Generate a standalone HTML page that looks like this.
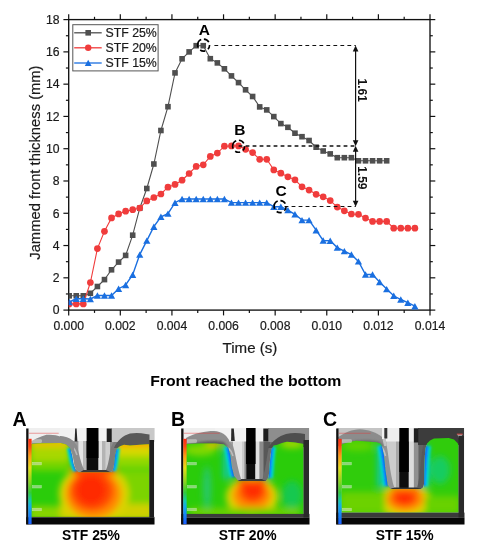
<!DOCTYPE html>
<html><head><meta charset="utf-8"><title>Jammed front thickness</title>
<style>
html,body{margin:0;padding:0;background:#fff;}
body{width:478px;height:550px;overflow:hidden;}
svg{display:block;font-family:"Liberation Sans",Arial,sans-serif;}
.tl{font-size:12.2px;fill:#1a1a1a;stroke:#1a1a1a;stroke-width:0.2px;}
.at{font-size:15.1px;fill:#1a1a1a;stroke:#1a1a1a;stroke-width:0.2px;}
.ay{font-size:14.75px;fill:#1a1a1a;stroke:#1a1a1a;stroke-width:0.2px;}
.lg{font-size:12.3px;fill:#1a1a1a;stroke:#1a1a1a;stroke-width:0.2px;}
.an{font-size:12px;font-weight:bold;fill:#111;}
.lb{font-size:15.5px;font-weight:bold;fill:#000;}
.ti{font-size:15px;font-weight:bold;fill:#000;}
.bl{font-size:19.5px;font-weight:bold;fill:#000;}
.cp{font-size:13.9px;font-weight:bold;fill:#000;}
</style></head>
<body>
<svg width="478" height="550" viewBox="0 0 478 550">
<rect width="478" height="550" fill="#fff"/>
<rect x="68.7" y="19.6" width="361.30" height="290.50" fill="none" stroke="#111" stroke-width="1.35"/>
<line x1="68.70" y1="310.1" x2="68.70" y2="315.40" stroke="#111" stroke-width="1.2"/>
<line x1="68.70" y1="19.6" x2="68.70" y2="14.30" stroke="#111" stroke-width="1.2"/>
<line x1="94.51" y1="310.1" x2="94.51" y2="312.90" stroke="#111" stroke-width="1.2"/>
<line x1="94.51" y1="19.6" x2="94.51" y2="16.80" stroke="#111" stroke-width="1.2"/>
<line x1="120.31" y1="310.1" x2="120.31" y2="315.40" stroke="#111" stroke-width="1.2"/>
<line x1="120.31" y1="19.6" x2="120.31" y2="14.30" stroke="#111" stroke-width="1.2"/>
<line x1="146.12" y1="310.1" x2="146.12" y2="312.90" stroke="#111" stroke-width="1.2"/>
<line x1="146.12" y1="19.6" x2="146.12" y2="16.80" stroke="#111" stroke-width="1.2"/>
<line x1="171.93" y1="310.1" x2="171.93" y2="315.40" stroke="#111" stroke-width="1.2"/>
<line x1="171.93" y1="19.6" x2="171.93" y2="14.30" stroke="#111" stroke-width="1.2"/>
<line x1="197.74" y1="310.1" x2="197.74" y2="312.90" stroke="#111" stroke-width="1.2"/>
<line x1="197.74" y1="19.6" x2="197.74" y2="16.80" stroke="#111" stroke-width="1.2"/>
<line x1="223.54" y1="310.1" x2="223.54" y2="315.40" stroke="#111" stroke-width="1.2"/>
<line x1="223.54" y1="19.6" x2="223.54" y2="14.30" stroke="#111" stroke-width="1.2"/>
<line x1="249.35" y1="310.1" x2="249.35" y2="312.90" stroke="#111" stroke-width="1.2"/>
<line x1="249.35" y1="19.6" x2="249.35" y2="16.80" stroke="#111" stroke-width="1.2"/>
<line x1="275.16" y1="310.1" x2="275.16" y2="315.40" stroke="#111" stroke-width="1.2"/>
<line x1="275.16" y1="19.6" x2="275.16" y2="14.30" stroke="#111" stroke-width="1.2"/>
<line x1="300.96" y1="310.1" x2="300.96" y2="312.90" stroke="#111" stroke-width="1.2"/>
<line x1="300.96" y1="19.6" x2="300.96" y2="16.80" stroke="#111" stroke-width="1.2"/>
<line x1="326.77" y1="310.1" x2="326.77" y2="315.40" stroke="#111" stroke-width="1.2"/>
<line x1="326.77" y1="19.6" x2="326.77" y2="14.30" stroke="#111" stroke-width="1.2"/>
<line x1="352.58" y1="310.1" x2="352.58" y2="312.90" stroke="#111" stroke-width="1.2"/>
<line x1="352.58" y1="19.6" x2="352.58" y2="16.80" stroke="#111" stroke-width="1.2"/>
<line x1="378.39" y1="310.1" x2="378.39" y2="315.40" stroke="#111" stroke-width="1.2"/>
<line x1="378.39" y1="19.6" x2="378.39" y2="14.30" stroke="#111" stroke-width="1.2"/>
<line x1="404.19" y1="310.1" x2="404.19" y2="312.90" stroke="#111" stroke-width="1.2"/>
<line x1="404.19" y1="19.6" x2="404.19" y2="16.80" stroke="#111" stroke-width="1.2"/>
<line x1="430.00" y1="310.1" x2="430.00" y2="315.40" stroke="#111" stroke-width="1.2"/>
<line x1="430.00" y1="19.6" x2="430.00" y2="14.30" stroke="#111" stroke-width="1.2"/>
<line x1="68.7" y1="310.10" x2="63.40" y2="310.10" stroke="#111" stroke-width="1.2"/>
<line x1="430.0" y1="310.10" x2="435.30" y2="310.10" stroke="#111" stroke-width="1.2"/>
<line x1="68.7" y1="293.96" x2="65.90" y2="293.96" stroke="#111" stroke-width="1.2"/>
<line x1="430.0" y1="293.96" x2="432.80" y2="293.96" stroke="#111" stroke-width="1.2"/>
<line x1="68.7" y1="277.82" x2="63.40" y2="277.82" stroke="#111" stroke-width="1.2"/>
<line x1="430.0" y1="277.82" x2="435.30" y2="277.82" stroke="#111" stroke-width="1.2"/>
<line x1="68.7" y1="261.68" x2="65.90" y2="261.68" stroke="#111" stroke-width="1.2"/>
<line x1="430.0" y1="261.68" x2="432.80" y2="261.68" stroke="#111" stroke-width="1.2"/>
<line x1="68.7" y1="245.54" x2="63.40" y2="245.54" stroke="#111" stroke-width="1.2"/>
<line x1="430.0" y1="245.54" x2="435.30" y2="245.54" stroke="#111" stroke-width="1.2"/>
<line x1="68.7" y1="229.41" x2="65.90" y2="229.41" stroke="#111" stroke-width="1.2"/>
<line x1="430.0" y1="229.41" x2="432.80" y2="229.41" stroke="#111" stroke-width="1.2"/>
<line x1="68.7" y1="213.27" x2="63.40" y2="213.27" stroke="#111" stroke-width="1.2"/>
<line x1="430.0" y1="213.27" x2="435.30" y2="213.27" stroke="#111" stroke-width="1.2"/>
<line x1="68.7" y1="197.13" x2="65.90" y2="197.13" stroke="#111" stroke-width="1.2"/>
<line x1="430.0" y1="197.13" x2="432.80" y2="197.13" stroke="#111" stroke-width="1.2"/>
<line x1="68.7" y1="180.99" x2="63.40" y2="180.99" stroke="#111" stroke-width="1.2"/>
<line x1="430.0" y1="180.99" x2="435.30" y2="180.99" stroke="#111" stroke-width="1.2"/>
<line x1="68.7" y1="164.85" x2="65.90" y2="164.85" stroke="#111" stroke-width="1.2"/>
<line x1="430.0" y1="164.85" x2="432.80" y2="164.85" stroke="#111" stroke-width="1.2"/>
<line x1="68.7" y1="148.71" x2="63.40" y2="148.71" stroke="#111" stroke-width="1.2"/>
<line x1="430.0" y1="148.71" x2="435.30" y2="148.71" stroke="#111" stroke-width="1.2"/>
<line x1="68.7" y1="132.57" x2="65.90" y2="132.57" stroke="#111" stroke-width="1.2"/>
<line x1="430.0" y1="132.57" x2="432.80" y2="132.57" stroke="#111" stroke-width="1.2"/>
<line x1="68.7" y1="116.43" x2="63.40" y2="116.43" stroke="#111" stroke-width="1.2"/>
<line x1="430.0" y1="116.43" x2="435.30" y2="116.43" stroke="#111" stroke-width="1.2"/>
<line x1="68.7" y1="100.29" x2="65.90" y2="100.29" stroke="#111" stroke-width="1.2"/>
<line x1="430.0" y1="100.29" x2="432.80" y2="100.29" stroke="#111" stroke-width="1.2"/>
<line x1="68.7" y1="84.16" x2="63.40" y2="84.16" stroke="#111" stroke-width="1.2"/>
<line x1="430.0" y1="84.16" x2="435.30" y2="84.16" stroke="#111" stroke-width="1.2"/>
<line x1="68.7" y1="68.02" x2="65.90" y2="68.02" stroke="#111" stroke-width="1.2"/>
<line x1="430.0" y1="68.02" x2="432.80" y2="68.02" stroke="#111" stroke-width="1.2"/>
<line x1="68.7" y1="51.88" x2="63.40" y2="51.88" stroke="#111" stroke-width="1.2"/>
<line x1="430.0" y1="51.88" x2="435.30" y2="51.88" stroke="#111" stroke-width="1.2"/>
<line x1="68.7" y1="35.74" x2="65.90" y2="35.74" stroke="#111" stroke-width="1.2"/>
<line x1="430.0" y1="35.74" x2="432.80" y2="35.74" stroke="#111" stroke-width="1.2"/>
<line x1="68.7" y1="19.60" x2="63.40" y2="19.60" stroke="#111" stroke-width="1.2"/>
<line x1="430.0" y1="19.60" x2="435.30" y2="19.60" stroke="#111" stroke-width="1.2"/>
<text x="59.6" y="314.40" text-anchor="end" class="tl">0</text>
<text x="59.6" y="282.12" text-anchor="end" class="tl">2</text>
<text x="59.6" y="249.84" text-anchor="end" class="tl">4</text>
<text x="59.6" y="217.57" text-anchor="end" class="tl">6</text>
<text x="59.6" y="185.29" text-anchor="end" class="tl">8</text>
<text x="59.6" y="153.01" text-anchor="end" class="tl">10</text>
<text x="59.6" y="120.73" text-anchor="end" class="tl">12</text>
<text x="59.6" y="88.46" text-anchor="end" class="tl">14</text>
<text x="59.6" y="56.18" text-anchor="end" class="tl">16</text>
<text x="59.6" y="23.90" text-anchor="end" class="tl">18</text>
<text x="68.70" y="329.9" text-anchor="middle" class="tl">0.000</text>
<text x="120.31" y="329.9" text-anchor="middle" class="tl">0.002</text>
<text x="171.93" y="329.9" text-anchor="middle" class="tl">0.004</text>
<text x="223.54" y="329.9" text-anchor="middle" class="tl">0.006</text>
<text x="275.16" y="329.9" text-anchor="middle" class="tl">0.008</text>
<text x="326.77" y="329.9" text-anchor="middle" class="tl">0.010</text>
<text x="378.39" y="329.9" text-anchor="middle" class="tl">0.012</text>
<text x="430.00" y="329.9" text-anchor="middle" class="tl">0.014</text>
<text x="250" y="352.6" text-anchor="middle" class="at">Time (s)</text>
<text transform="translate(39.8,162.6) rotate(-90)" text-anchor="middle" class="ay">Jammed front thickness (mm)</text>
<clipPath id="plotclip"><rect x="68.7" y="19.6" width="361.3" height="290.5"/></clipPath><g clip-path="url(#plotclip)">
<polyline points="69.20,295.80 76.25,295.80 83.31,295.80 90.37,293.30 97.42,286.50 104.47,279.60 111.53,269.80 118.59,262.10 125.64,255.40 132.69,235.20 139.75,208.20 146.81,188.50 153.86,164.00 160.92,130.50 167.97,106.70 175.02,72.90 182.08,58.80 189.13,51.90 196.19,45.70 203.25,45.70 210.30,58.70 217.36,62.90 224.41,68.80 231.46,75.90 238.52,82.60 245.57,89.80 252.63,96.50 259.69,106.90 266.74,109.90 273.80,116.60 280.85,123.60 287.90,127.30 294.96,133.20 302.01,136.70 309.07,140.50 316.12,147.20 323.18,151.00 330.23,153.90 337.29,157.70 344.34,157.70 351.40,157.70 358.45,160.80 365.51,160.80 372.56,160.80 379.62,160.80 386.67,160.80" fill="none" stroke="#4f4f4f" stroke-width="1.1"/>
<rect x="66.40" y="293.00" width="5.6" height="5.6" fill="#4f4f4f"/>
<rect x="73.45" y="293.00" width="5.6" height="5.6" fill="#4f4f4f"/>
<rect x="80.51" y="293.00" width="5.6" height="5.6" fill="#4f4f4f"/>
<rect x="87.57" y="290.50" width="5.6" height="5.6" fill="#4f4f4f"/>
<rect x="94.62" y="283.70" width="5.6" height="5.6" fill="#4f4f4f"/>
<rect x="101.67" y="276.80" width="5.6" height="5.6" fill="#4f4f4f"/>
<rect x="108.73" y="267.00" width="5.6" height="5.6" fill="#4f4f4f"/>
<rect x="115.79" y="259.30" width="5.6" height="5.6" fill="#4f4f4f"/>
<rect x="122.84" y="252.60" width="5.6" height="5.6" fill="#4f4f4f"/>
<rect x="129.89" y="232.40" width="5.6" height="5.6" fill="#4f4f4f"/>
<rect x="136.95" y="205.40" width="5.6" height="5.6" fill="#4f4f4f"/>
<rect x="144.00" y="185.70" width="5.6" height="5.6" fill="#4f4f4f"/>
<rect x="151.06" y="161.20" width="5.6" height="5.6" fill="#4f4f4f"/>
<rect x="158.12" y="127.70" width="5.6" height="5.6" fill="#4f4f4f"/>
<rect x="165.17" y="103.90" width="5.6" height="5.6" fill="#4f4f4f"/>
<rect x="172.22" y="70.10" width="5.6" height="5.6" fill="#4f4f4f"/>
<rect x="179.28" y="56.00" width="5.6" height="5.6" fill="#4f4f4f"/>
<rect x="186.33" y="49.10" width="5.6" height="5.6" fill="#4f4f4f"/>
<rect x="193.39" y="42.90" width="5.6" height="5.6" fill="#4f4f4f"/>
<rect x="200.44" y="42.90" width="5.6" height="5.6" fill="#4f4f4f"/>
<rect x="207.50" y="55.90" width="5.6" height="5.6" fill="#4f4f4f"/>
<rect x="214.56" y="60.10" width="5.6" height="5.6" fill="#4f4f4f"/>
<rect x="221.61" y="66.00" width="5.6" height="5.6" fill="#4f4f4f"/>
<rect x="228.66" y="73.10" width="5.6" height="5.6" fill="#4f4f4f"/>
<rect x="235.72" y="79.80" width="5.6" height="5.6" fill="#4f4f4f"/>
<rect x="242.77" y="87.00" width="5.6" height="5.6" fill="#4f4f4f"/>
<rect x="249.83" y="93.70" width="5.6" height="5.6" fill="#4f4f4f"/>
<rect x="256.88" y="104.10" width="5.6" height="5.6" fill="#4f4f4f"/>
<rect x="263.94" y="107.10" width="5.6" height="5.6" fill="#4f4f4f"/>
<rect x="271.00" y="113.80" width="5.6" height="5.6" fill="#4f4f4f"/>
<rect x="278.05" y="120.80" width="5.6" height="5.6" fill="#4f4f4f"/>
<rect x="285.10" y="124.50" width="5.6" height="5.6" fill="#4f4f4f"/>
<rect x="292.16" y="130.40" width="5.6" height="5.6" fill="#4f4f4f"/>
<rect x="299.21" y="133.90" width="5.6" height="5.6" fill="#4f4f4f"/>
<rect x="306.27" y="137.70" width="5.6" height="5.6" fill="#4f4f4f"/>
<rect x="313.32" y="144.40" width="5.6" height="5.6" fill="#4f4f4f"/>
<rect x="320.38" y="148.20" width="5.6" height="5.6" fill="#4f4f4f"/>
<rect x="327.43" y="151.10" width="5.6" height="5.6" fill="#4f4f4f"/>
<rect x="334.49" y="154.90" width="5.6" height="5.6" fill="#4f4f4f"/>
<rect x="341.54" y="154.90" width="5.6" height="5.6" fill="#4f4f4f"/>
<rect x="348.60" y="154.90" width="5.6" height="5.6" fill="#4f4f4f"/>
<rect x="355.65" y="158.00" width="5.6" height="5.6" fill="#4f4f4f"/>
<rect x="362.71" y="158.00" width="5.6" height="5.6" fill="#4f4f4f"/>
<rect x="369.76" y="158.00" width="5.6" height="5.6" fill="#4f4f4f"/>
<rect x="376.82" y="158.00" width="5.6" height="5.6" fill="#4f4f4f"/>
<rect x="383.87" y="158.00" width="5.6" height="5.6" fill="#4f4f4f"/>
<polyline points="69.20,303.90 76.25,303.90 83.31,303.90 90.37,282.50 97.42,248.60 104.47,231.30 111.53,217.90 118.59,213.90 125.64,211.20 132.69,209.70 139.75,208.00 146.81,200.90 153.86,197.50 160.92,194.00 167.97,187.20 175.02,184.40 182.08,180.20 189.13,173.50 196.19,166.40 203.25,164.80 210.30,156.40 217.36,153.10 224.41,146.20 231.46,145.90 238.52,145.90 245.57,149.30 252.63,152.60 259.69,159.30 266.74,159.30 273.80,169.90 280.85,173.20 287.90,176.80 294.96,179.80 302.01,186.80 309.07,190.10 316.12,194.30 323.18,196.80 330.23,200.60 337.29,207.10 344.34,210.80 351.40,214.00 358.45,214.30 365.51,218.10 372.56,221.40 379.62,221.40 386.67,221.40 393.73,228.20 400.78,228.20 407.84,228.20 414.89,228.20" fill="none" stroke="#f03c3c" stroke-width="1.1"/>
<circle cx="69.20" cy="303.90" r="3.35" fill="#f03c3c"/>
<circle cx="76.25" cy="303.90" r="3.35" fill="#f03c3c"/>
<circle cx="83.31" cy="303.90" r="3.35" fill="#f03c3c"/>
<circle cx="90.37" cy="282.50" r="3.35" fill="#f03c3c"/>
<circle cx="97.42" cy="248.60" r="3.35" fill="#f03c3c"/>
<circle cx="104.47" cy="231.30" r="3.35" fill="#f03c3c"/>
<circle cx="111.53" cy="217.90" r="3.35" fill="#f03c3c"/>
<circle cx="118.59" cy="213.90" r="3.35" fill="#f03c3c"/>
<circle cx="125.64" cy="211.20" r="3.35" fill="#f03c3c"/>
<circle cx="132.69" cy="209.70" r="3.35" fill="#f03c3c"/>
<circle cx="139.75" cy="208.00" r="3.35" fill="#f03c3c"/>
<circle cx="146.81" cy="200.90" r="3.35" fill="#f03c3c"/>
<circle cx="153.86" cy="197.50" r="3.35" fill="#f03c3c"/>
<circle cx="160.92" cy="194.00" r="3.35" fill="#f03c3c"/>
<circle cx="167.97" cy="187.20" r="3.35" fill="#f03c3c"/>
<circle cx="175.02" cy="184.40" r="3.35" fill="#f03c3c"/>
<circle cx="182.08" cy="180.20" r="3.35" fill="#f03c3c"/>
<circle cx="189.13" cy="173.50" r="3.35" fill="#f03c3c"/>
<circle cx="196.19" cy="166.40" r="3.35" fill="#f03c3c"/>
<circle cx="203.25" cy="164.80" r="3.35" fill="#f03c3c"/>
<circle cx="210.30" cy="156.40" r="3.35" fill="#f03c3c"/>
<circle cx="217.36" cy="153.10" r="3.35" fill="#f03c3c"/>
<circle cx="224.41" cy="146.20" r="3.35" fill="#f03c3c"/>
<circle cx="231.46" cy="145.90" r="3.35" fill="#f03c3c"/>
<circle cx="238.52" cy="145.90" r="3.35" fill="#f03c3c"/>
<circle cx="245.57" cy="149.30" r="3.35" fill="#f03c3c"/>
<circle cx="252.63" cy="152.60" r="3.35" fill="#f03c3c"/>
<circle cx="259.69" cy="159.30" r="3.35" fill="#f03c3c"/>
<circle cx="266.74" cy="159.30" r="3.35" fill="#f03c3c"/>
<circle cx="273.80" cy="169.90" r="3.35" fill="#f03c3c"/>
<circle cx="280.85" cy="173.20" r="3.35" fill="#f03c3c"/>
<circle cx="287.90" cy="176.80" r="3.35" fill="#f03c3c"/>
<circle cx="294.96" cy="179.80" r="3.35" fill="#f03c3c"/>
<circle cx="302.01" cy="186.80" r="3.35" fill="#f03c3c"/>
<circle cx="309.07" cy="190.10" r="3.35" fill="#f03c3c"/>
<circle cx="316.12" cy="194.30" r="3.35" fill="#f03c3c"/>
<circle cx="323.18" cy="196.80" r="3.35" fill="#f03c3c"/>
<circle cx="330.23" cy="200.60" r="3.35" fill="#f03c3c"/>
<circle cx="337.29" cy="207.10" r="3.35" fill="#f03c3c"/>
<circle cx="344.34" cy="210.80" r="3.35" fill="#f03c3c"/>
<circle cx="351.40" cy="214.00" r="3.35" fill="#f03c3c"/>
<circle cx="358.45" cy="214.30" r="3.35" fill="#f03c3c"/>
<circle cx="365.51" cy="218.10" r="3.35" fill="#f03c3c"/>
<circle cx="372.56" cy="221.40" r="3.35" fill="#f03c3c"/>
<circle cx="379.62" cy="221.40" r="3.35" fill="#f03c3c"/>
<circle cx="386.67" cy="221.40" r="3.35" fill="#f03c3c"/>
<circle cx="393.73" cy="228.20" r="3.35" fill="#f03c3c"/>
<circle cx="400.78" cy="228.20" r="3.35" fill="#f03c3c"/>
<circle cx="407.84" cy="228.20" r="3.35" fill="#f03c3c"/>
<circle cx="414.89" cy="228.20" r="3.35" fill="#f03c3c"/>
<polyline points="69.20,302.00 76.25,298.80 83.31,298.80 90.37,299.00 97.42,295.50 104.47,295.50 111.53,295.50 118.59,288.70 125.64,285.00 132.69,274.70 139.75,254.60 146.81,240.60 153.86,226.70 160.92,216.80 167.97,213.60 175.02,202.70 182.08,199.00 189.13,199.00 196.19,199.00 203.25,199.00 210.30,199.00 217.36,199.00 224.41,199.00 231.46,202.60 238.52,202.60 245.57,202.60 252.63,202.60 259.69,202.60 266.74,202.60 273.80,206.70 280.85,206.70 287.90,210.10 294.96,214.30 302.01,220.10 309.07,220.10 316.12,230.20 323.18,240.50 330.23,240.70 337.29,247.60 344.34,251.10 351.40,254.50 358.45,261.40 365.51,274.50 372.56,274.50 379.62,282.00 386.67,289.10 393.73,295.80 400.78,299.50 407.84,302.70 414.89,306.20" fill="none" stroke="#1a6fe0" stroke-width="1.4"/>
<path d="M69.20,298.80L72.80,305.20L65.60,305.20Z" fill="#1a6fe0"/>
<path d="M76.25,295.60L79.85,302.00L72.66,302.00Z" fill="#1a6fe0"/>
<path d="M83.31,295.60L86.91,302.00L79.71,302.00Z" fill="#1a6fe0"/>
<path d="M90.37,295.80L93.97,302.20L86.77,302.20Z" fill="#1a6fe0"/>
<path d="M97.42,292.30L101.02,298.70L93.82,298.70Z" fill="#1a6fe0"/>
<path d="M104.47,292.30L108.07,298.70L100.88,298.70Z" fill="#1a6fe0"/>
<path d="M111.53,292.30L115.13,298.70L107.93,298.70Z" fill="#1a6fe0"/>
<path d="M118.59,285.50L122.19,291.90L114.99,291.90Z" fill="#1a6fe0"/>
<path d="M125.64,281.80L129.24,288.20L122.04,288.20Z" fill="#1a6fe0"/>
<path d="M132.69,271.50L136.29,277.90L129.09,277.90Z" fill="#1a6fe0"/>
<path d="M139.75,251.40L143.35,257.80L136.15,257.80Z" fill="#1a6fe0"/>
<path d="M146.81,237.40L150.41,243.80L143.21,243.80Z" fill="#1a6fe0"/>
<path d="M153.86,223.50L157.46,229.90L150.26,229.90Z" fill="#1a6fe0"/>
<path d="M160.92,213.60L164.52,220.00L157.32,220.00Z" fill="#1a6fe0"/>
<path d="M167.97,210.40L171.57,216.80L164.37,216.80Z" fill="#1a6fe0"/>
<path d="M175.02,199.50L178.62,205.90L171.42,205.90Z" fill="#1a6fe0"/>
<path d="M182.08,195.80L185.68,202.20L178.48,202.20Z" fill="#1a6fe0"/>
<path d="M189.13,195.80L192.73,202.20L185.53,202.20Z" fill="#1a6fe0"/>
<path d="M196.19,195.80L199.79,202.20L192.59,202.20Z" fill="#1a6fe0"/>
<path d="M203.25,195.80L206.84,202.20L199.65,202.20Z" fill="#1a6fe0"/>
<path d="M210.30,195.80L213.90,202.20L206.70,202.20Z" fill="#1a6fe0"/>
<path d="M217.36,195.80L220.96,202.20L213.76,202.20Z" fill="#1a6fe0"/>
<path d="M224.41,195.80L228.01,202.20L220.81,202.20Z" fill="#1a6fe0"/>
<path d="M231.46,199.40L235.06,205.80L227.86,205.80Z" fill="#1a6fe0"/>
<path d="M238.52,199.40L242.12,205.80L234.92,205.80Z" fill="#1a6fe0"/>
<path d="M245.57,199.40L249.17,205.80L241.97,205.80Z" fill="#1a6fe0"/>
<path d="M252.63,199.40L256.23,205.80L249.03,205.80Z" fill="#1a6fe0"/>
<path d="M259.69,199.40L263.29,205.80L256.08,205.80Z" fill="#1a6fe0"/>
<path d="M266.74,199.40L270.34,205.80L263.14,205.80Z" fill="#1a6fe0"/>
<path d="M273.80,203.50L277.40,209.90L270.19,209.90Z" fill="#1a6fe0"/>
<path d="M280.85,203.50L284.45,209.90L277.25,209.90Z" fill="#1a6fe0"/>
<path d="M287.90,206.90L291.50,213.30L284.30,213.30Z" fill="#1a6fe0"/>
<path d="M294.96,211.10L298.56,217.50L291.36,217.50Z" fill="#1a6fe0"/>
<path d="M302.01,216.90L305.62,223.30L298.41,223.30Z" fill="#1a6fe0"/>
<path d="M309.07,216.90L312.67,223.30L305.47,223.30Z" fill="#1a6fe0"/>
<path d="M316.12,227.00L319.73,233.40L312.52,233.40Z" fill="#1a6fe0"/>
<path d="M323.18,237.30L326.78,243.70L319.58,243.70Z" fill="#1a6fe0"/>
<path d="M330.23,237.50L333.83,243.90L326.63,243.90Z" fill="#1a6fe0"/>
<path d="M337.29,244.40L340.89,250.80L333.69,250.80Z" fill="#1a6fe0"/>
<path d="M344.34,247.90L347.94,254.30L340.74,254.30Z" fill="#1a6fe0"/>
<path d="M351.40,251.30L355.00,257.70L347.80,257.70Z" fill="#1a6fe0"/>
<path d="M358.45,258.20L362.06,264.60L354.85,264.60Z" fill="#1a6fe0"/>
<path d="M365.51,271.30L369.11,277.70L361.91,277.70Z" fill="#1a6fe0"/>
<path d="M372.56,271.30L376.17,277.70L368.96,277.70Z" fill="#1a6fe0"/>
<path d="M379.62,278.80L383.22,285.20L376.02,285.20Z" fill="#1a6fe0"/>
<path d="M386.67,285.90L390.27,292.30L383.07,292.30Z" fill="#1a6fe0"/>
<path d="M393.73,292.60L397.33,299.00L390.13,299.00Z" fill="#1a6fe0"/>
<path d="M400.78,296.30L404.38,302.70L397.18,302.70Z" fill="#1a6fe0"/>
<path d="M407.84,299.50L411.44,305.90L404.24,305.90Z" fill="#1a6fe0"/>
<path d="M414.89,303.00L418.50,309.40L411.29,309.40Z" fill="#1a6fe0"/>
</g>
<rect x="72.8" y="24.7" width="85.3" height="46.2" fill="#fff" stroke="#555" stroke-width="1"/>
<line x1="74.2" y1="32.8" x2="101.7" y2="32.8" stroke="#4f4f4f" stroke-width="1.3"/>
<rect x="85.4" y="29.999999999999996" width="5.6" height="5.6" fill="#4f4f4f"/>
<text x="105.5" y="37.0" class="lg">STF 25%</text>
<line x1="74.2" y1="47.8" x2="101.7" y2="47.8" stroke="#f03c3c" stroke-width="1.3"/>
<circle cx="88.2" cy="47.8" r="3.2" fill="#f03c3c"/>
<text x="105.5" y="52.0" class="lg">STF 20%</text>
<line x1="74.2" y1="63.0" x2="101.7" y2="63.0" stroke="#1a6fe0" stroke-width="1.3"/>
<path d="M88.2,59.8L91.60000000000001,65.9L84.8,65.9Z" fill="#1a6fe0"/>
<text x="105.5" y="67.2" class="lg">STF 15%</text>
<line x1="214.4" y1="45.5" x2="355.8" y2="45.5" stroke="#111" stroke-width="1.2" stroke-dasharray="3.8,3.2"/>
<line x1="238.6" y1="146.0" x2="355.8" y2="146.0" stroke="#111" stroke-width="1.3" stroke-dasharray="3.8,3.2"/>
<line x1="284.6" y1="206.5" x2="355.8" y2="206.5" stroke="#111" stroke-width="1.2" stroke-dasharray="3.8,3.2"/>
<line x1="355.6" y1="49.4" x2="355.6" y2="142.2" stroke="#111" stroke-width="1.2"/>
<path d="M355.6,45.4L358.4,51.4L352.8,51.4Z" fill="#111"/>
<path d="M355.6,146.2L358.4,140.2L352.8,140.2Z" fill="#111"/>
<line x1="355.6" y1="149.8" x2="355.6" y2="202.8" stroke="#111" stroke-width="1.2"/>
<path d="M355.6,145.8L358.4,151.8L352.8,151.8Z" fill="#111"/>
<path d="M355.6,206.8L358.4,200.8L352.8,200.8Z" fill="#111"/>
<text transform="translate(358.3,90.2) rotate(90)" text-anchor="middle" class="an">1.61</text>
<text transform="translate(358.3,177.8) rotate(90)" text-anchor="middle" class="an">1.59</text>
<circle cx="203.6" cy="45.1" r="6.0" fill="none" stroke="#000" stroke-width="1.6" stroke-dasharray="5.45,3.04,5.24,3.25,9.01,2.83,5.76,3.14" stroke-dashoffset="0.94"/>
<circle cx="238.6" cy="146.3" r="6.0" fill="none" stroke="#000" stroke-width="1.6" stroke-dasharray="5.45,3.04,5.24,3.25,9.01,2.83,5.76,3.14" stroke-dashoffset="0.94"/>
<circle cx="280.1" cy="206.6" r="6.0" fill="none" stroke="#000" stroke-width="1.6" stroke-dasharray="5.45,3.04,5.24,3.25,9.01,2.83,5.76,3.14" stroke-dashoffset="0.94"/>
<text x="204.4" y="34.5" text-anchor="middle" class="lb">A</text>
<text x="239.8" y="135.3" text-anchor="middle" class="lb">B</text>
<text x="281.1" y="196.2" text-anchor="middle" class="lb">C</text>
<defs>
<filter id="b3" x="-30%" y="-30%" width="160%" height="160%"><feGaussianBlur stdDeviation="3"/></filter>
<filter id="b2" x="-30%" y="-30%" width="160%" height="160%"><feGaussianBlur stdDeviation="1.8"/></filter>
<filter id="b1" x="-30%" y="-30%" width="160%" height="160%"><feGaussianBlur stdDeviation="0.9"/></filter>
<filter id="b05" x="-30%" y="-30%" width="160%" height="160%"><feGaussianBlur stdDeviation="0.5"/></filter>
<linearGradient id="cbar" x1="0" y1="0" x2="0" y2="1">
<stop offset="0" stop-color="#ff2a12"/>
<stop offset="0.09" stop-color="#ff4a10"/>
<stop offset="0.2" stop-color="#ff9a12"/>
<stop offset="0.34" stop-color="#e6dc14"/>
<stop offset="0.5" stop-color="#8cd41e"/>
<stop offset="0.63" stop-color="#30cc3a"/>
<stop offset="0.73" stop-color="#12c8b4"/>
<stop offset="0.8" stop-color="#12a8f0"/>
<stop offset="1" stop-color="#1a5cff"/>
</linearGradient>
</defs>
<rect x="26.2" y="428.0" width="128.3" height="96.5" fill="#efefef"/>
<clipPath id="iA"><path d="M60,442 C69,443 72,450 73.5,460 C74.5,467 76,471 79,472.5 L111,472.5 C113,471 114,466 114.6,460 C115.5,450 118,443 126,442 L126,428 L60,428 Z"/></clipPath>
<g clip-path="url(#iA)">
<rect x="26.2" y="428.0" width="128.3" height="96.5" fill="#bcbcbc"/>
<g filter="url(#b05)">
<rect x="60" y="428.0" width="16.00" height="96.5" fill="#a4a4a4"/>
<rect x="76" y="428.0" width="2.50" height="96.5" fill="#9a9a9a"/>
<rect x="78.5" y="428.0" width="4.50" height="96.5" fill="#e4e4e4"/>
<rect x="83" y="428.0" width="3.60" height="96.5" fill="#b8b8b8"/>
<rect x="86.6" y="428.0" width="11.90" height="96.5" fill="#0a0a0a"/>
<rect x="98.5" y="428.0" width="3.50" height="96.5" fill="#e2e2e2"/>
<rect x="102" y="428.0" width="3.50" height="96.5" fill="#b4b4b4"/>
<rect x="105.5" y="428.0" width="4.50" height="96.5" fill="#cfcfcf"/>
<rect x="110" y="428.0" width="16.00" height="96.5" fill="#8c8c8c"/>
<rect x="60" y="428" width="51.5" height="13" fill="#f2f2f2"/>
<rect x="86.6" y="428" width="11.9" height="30" fill="#050505"/>
<rect x="76" y="470" width="38" height="3" fill="#3a3a3a"/>
<path d="M52,440 C63,440 70,441.5 73,448 C75,456 76.5,466 80.5,472" fill="none" stroke="#8c8c8c" stroke-width="9"/>
<path d="M136,440 C125,440 118,441.5 115.5,448 C114,456 113,466 110,472" fill="none" stroke="#7c7c7c" stroke-width="9"/>
<path d="M66,443.5 C72,445 75.5,449 77,455" fill="none" stroke="#b8b8b8" stroke-width="1.6"/>
</g></g>
<rect x="111.5" y="428" width="43" height="14" fill="#c8c8c8"/>
<path d="M31.5,444 L31.5,441 C36,438.5 40,436.9 46.4,434.8 C52,434.4 57,435 61,436.8 C66,439 70,441.5 74,444 L74,452 Z" fill="#8c8c8c"/>
<path d="M114,448 C117,441 123,435.5 130,433.6 C135,432.4 141,432.8 146,434 L149.5,434.5 L149.5,447 Z" fill="#585858"/>
<path d="M75.2,428.5 L76.6,428.5 L77.4,441.5 L74.6,441.5 Z" fill="#2a2a2a"/>
<rect x="106.7" y="428.5" width="5" height="13.5" fill="#1e1e1e"/>
<clipPath id="cA"><path d="M31,444 L38,443.5 L43,443.2 L60.6,443 L66,444.5 L70,448 L72,455 L73.5,464 L75.5,469.5 L78.4,472.3 L111.7,472.3 L113.5,468 L114.2,463.6 L115,455 L116.5,449 L120,446.2 L124,444.8 L130,445.6 L140,444.8 L147.5,444.2 L149.4,444.2 L149.4,516.9 L31,516.9 Z"/></clipPath>
<g clip-path="url(#cA)">
<rect x="26.2" y="428.0" width="128.3" height="96.5" fill="#2acc0a"/>
<g filter="url(#b3)">
<rect x="30" y="438" width="40" height="9" fill="#e8c000"/>
<rect x="30" y="447" width="40" height="14" fill="#a8d800"/>
<rect x="30" y="461" width="40" height="10" fill="#70d400"/>
<rect x="114" y="438" width="40" height="8" fill="#ff9000"/>
<rect x="114" y="446" width="40" height="10" fill="#d8d800"/>
<rect x="114" y="456" width="40" height="12" fill="#90d800"/>
<rect x="120" y="470" width="34" height="50" fill="#7cd400"/>
<rect x="30" y="506" width="34" height="14" fill="#88d400"/>
<rect x="60" y="504" width="94" height="16" fill="#d0d000"/>
<ellipse cx="94" cy="494" rx="35" ry="30" fill="#dcd400"/>
<ellipse cx="93.5" cy="494" rx="28" ry="25" fill="#ff8c00"/>
<ellipse cx="92" cy="491" rx="22" ry="20" fill="#ff4c00"/>
<ellipse cx="91" cy="490" rx="15" ry="15" fill="#ff2c00"/>
<rect x="72" y="466" width="44" height="8" fill="#ff4400"/>
</g>
<g filter="url(#b1)">
<path d="M68.6,448 C70.6,456 71.2,464 74.8,471" fill="none" stroke="#00d8d0" stroke-width="4"/>
<path d="M118.2,448 C116.8,455 116.6,464 114.1,471" fill="none" stroke="#00d8d0" stroke-width="4"/>
<path d="M70.6,448 C72.6,456 73.2,464 76.8,471" fill="none" stroke="#1060ff" stroke-width="3.4"/>
<path d="M116.3,448 C114.9,455 114.7,464 112.2,471" fill="none" stroke="#1068ff" stroke-width="3.2"/>
</g>
</g>
<rect x="26.2" y="516.9" width="128.3" height="0.5" fill="#151515"/>
<rect x="26.2" y="517.4" width="128.3" height="7.100000000000023" fill="#070707"/>
<rect x="149.3" y="440" width="4.70" height="77.39999999999998" fill="#1c1c1c"/>
<rect x="26.2" y="428.5" width="2.3" height="95.7" fill="#101010"/>
<rect x="28.3" y="438.8" width="3.3" height="85.29999999999998" fill="url(#cbar)"/>
<rect x="32.4" y="439.8" width="9" height="2.6" fill="#d8dcd0" stroke="#ffffff" stroke-width="0.5" opacity="0.55"/>
<rect x="32.4" y="462.3" width="9" height="2.6" fill="#d8dcd0" stroke="#ffffff" stroke-width="0.5" opacity="0.55"/>
<rect x="32.4" y="485.4" width="9" height="2.6" fill="#d8dcd0" stroke="#ffffff" stroke-width="0.5" opacity="0.55"/>
<rect x="32.4" y="508.2" width="9" height="2.6" fill="#d8dcd0" stroke="#ffffff" stroke-width="0.5" opacity="0.55"/>
<rect x="28.7" y="432.8" width="30" height="0.8" fill="#e03c3c" opacity="0.6"/>
<rect x="181.2" y="428.0" width="128.3" height="96.5" fill="#efefef"/>
<clipPath id="iB"><path d="M215,441.5 C224,442 229,448 230.4,455.3 C231.4,463 232.5,472 234,476 C235,479 236.5,480.9 238.4,480.9 L266,480.9 C268,480 269,476 269.4,470 C269.8,462 270.5,452 272,448 C274,444 278,441.5 285,441.5 L285,428 L215,428 Z"/></clipPath>
<g clip-path="url(#iB)">
<rect x="181.2" y="428.0" width="128.3" height="96.5" fill="#bcbcbc"/>
<g filter="url(#b05)">
<rect x="215" y="428.0" width="15.00" height="96.5" fill="#a4a4a4"/>
<rect x="230" y="428.0" width="3.00" height="96.5" fill="#a0a0a0"/>
<rect x="233" y="428.0" width="9.00" height="96.5" fill="#e2e2e2"/>
<rect x="242" y="428.0" width="2.50" height="96.5" fill="#cccccc"/>
<rect x="244.5" y="428.0" width="1.80" height="96.5" fill="#8a8a8a"/>
<rect x="246.3" y="428.0" width="9.10" height="96.5" fill="#0a0a0a"/>
<rect x="255.4" y="428.0" width="4.10" height="96.5" fill="#e0e0e0"/>
<rect x="259.5" y="428.0" width="3.80" height="96.5" fill="#8a8a8a"/>
<rect x="263.3" y="428.0" width="6.70" height="96.5" fill="#585858"/>
<rect x="270" y="428.0" width="15.00" height="96.5" fill="#6a6a6a"/>
<rect x="215" y="428" width="53" height="13.5" fill="#f2f2f2"/>
<rect x="246.1" y="428" width="9.5" height="36" fill="#050505"/>
<rect x="232" y="479" width="38" height="3" fill="#3a3a3a"/>
<path d="M205,440.5 C217,440.5 225,442 229,448 C231.5,456 232.5,468 237,481" fill="none" stroke="#929292" stroke-width="9"/>
<path d="M296,440.5 C284,440.5 276,442.5 273,449 C271,458 270.5,470 266.5,481" fill="none" stroke="#6c6c6c" stroke-width="9"/>
<path d="M220,443.5 C227,445 231,449 233,456" fill="none" stroke="#bcbcbc" stroke-width="1.6"/>
</g></g>
<path d="M186,445 L186,438 C195,433 205,431 214,431 C222,431.6 226,435 229,440 L230,448 Z" fill="#8e8e8e"/>
<path d="M187,445 C200,441 214,440 224,442 L228,447 Z" fill="#5c5c5c" filter="url(#b1)"/>
<rect x="268" y="428" width="41" height="14" fill="#8e8e8e"/>
<path d="M268,448 C272,441 279,436 286,434 C292,432.5 298,432.6 305,434 L305,447 Z" fill="#4e4e4e"/>
<path d="M231.3,428.5 L233.8,428.5 L234.8,441 L231.1,441 Z" fill="#2a2a2a"/>
<rect x="263.3" y="428.5" width="5" height="13" fill="#1e1e1e"/>
<clipPath id="cB"><path d="M186,444 L200,443.5 L215,443.6 L223.8,444.3 L228.2,448 L230.4,455.3 L231.8,467 L234,475.8 L238.4,480.9 L266,480.9 L268.5,477 L269.4,470 L269.9,462.6 L271.4,449.4 L273.6,445.5 L277.4,444.7 L282,443 L286.9,441.8 L295,442.6 L302.5,443.8 L303.6,444 L303.6,513.9 L186,513.9 Z"/></clipPath>
<g clip-path="url(#cB)">
<rect x="181.2" y="428.0" width="128.3" height="96.5" fill="#2acc0a"/>
<g filter="url(#b3)">
<ellipse cx="213" cy="444" rx="10" ry="3" fill="#f0b000"/>
<ellipse cx="200" cy="450" rx="16" ry="6" fill="#80d800"/>
<ellipse cx="292" cy="444" rx="12" ry="4" fill="#a8d800"/>
<rect x="223" y="445" width="8" height="34" fill="#10c8a0"/>
<rect x="266" y="446" width="6" height="32" fill="#10c8a0"/>
<ellipse cx="207" cy="488" rx="4" ry="22" fill="#28c870"/>
<ellipse cx="292" cy="495" rx="10" ry="14" fill="#18c850"/>
<ellipse cx="252" cy="497" rx="26" ry="20" fill="#dcd400"/>
<ellipse cx="252" cy="495" rx="19.5" ry="16" fill="#ff8c00"/>
<ellipse cx="252.5" cy="491" rx="13.5" ry="12" fill="#ff4c00"/>
<ellipse cx="253" cy="489" rx="9" ry="8.5" fill="#ff2c00"/>
<rect x="238" y="479" width="28" height="5" fill="#ff5a00"/>
<rect x="190" y="508" width="110" height="8" fill="#70d000"/>
</g>
<g filter="url(#b1)">
<path d="M225.8,447 C228.2,455 229.2,467 231.8,477" fill="none" stroke="#00d8d0" stroke-width="4"/>
<path d="M274,447 C272.4,455 272,467 270.8,478" fill="none" stroke="#00d8d0" stroke-width="4"/>
<path d="M227.8,447 C230.2,455 231.2,467 233.8,477" fill="none" stroke="#1060ff" stroke-width="3.4"/>
<path d="M272,447 C270.4,455 270,467 268.8,478" fill="none" stroke="#1068ff" stroke-width="3.2"/>
</g>
</g>
<rect x="181.2" y="513.9" width="128.3" height="3.6000000000000227" fill="#3a3a3a"/>
<rect x="181.2" y="517.5" width="128.3" height="7.0" fill="#070707"/>
<rect x="303.5" y="440" width="5.50" height="77.5" fill="#2a2a2a"/>
<rect x="181.2" y="428.5" width="2.3" height="95.7" fill="#101010"/>
<rect x="183.29999999999998" y="438.8" width="3.3" height="85.29999999999998" fill="url(#cbar)"/>
<rect x="187.39999999999998" y="439.8" width="9" height="2.6" fill="#d8dcd0" stroke="#ffffff" stroke-width="0.5" opacity="0.55"/>
<rect x="187.39999999999998" y="462.3" width="9" height="2.6" fill="#d8dcd0" stroke="#ffffff" stroke-width="0.5" opacity="0.55"/>
<rect x="187.39999999999998" y="485.4" width="9" height="2.6" fill="#d8dcd0" stroke="#ffffff" stroke-width="0.5" opacity="0.55"/>
<rect x="187.39999999999998" y="508.2" width="9" height="2.6" fill="#d8dcd0" stroke="#ffffff" stroke-width="0.5" opacity="0.55"/>
<rect x="183.7" y="432.8" width="36" height="0.8" fill="#e03c3c" opacity="0.6"/>
<rect x="336.2" y="428.0" width="128.3" height="96.5" fill="#efefef"/>
<clipPath id="iC"><path d="M370,441 C376,441 380,443 381.7,445 C383,449 383.5,452 383.9,455.3 C384.6,462 385,468 385.4,470 C386,478 386.6,482 387.6,484.6 C388.4,487.5 389.5,489 391,489 L421,489 C423,488.5 424,486 424.2,482 C424.5,475 424.6,465 424.9,455.3 C425.3,450 426,446 427.1,443.6 C429,441 433,439.9 440,438 L440,428 L370,428 Z"/></clipPath>
<g clip-path="url(#iC)">
<rect x="336.2" y="428.0" width="128.3" height="96.5" fill="#bcbcbc"/>
<g filter="url(#b05)">
<rect x="370" y="428.0" width="14.00" height="96.5" fill="#a8a8a8"/>
<rect x="384" y="428.0" width="2.50" height="96.5" fill="#9a9a9a"/>
<rect x="386.5" y="428.0" width="9.50" height="96.5" fill="#cccccc"/>
<rect x="396" y="428.0" width="3.30" height="96.5" fill="#a8a8a8"/>
<rect x="399.3" y="428.0" width="9.50" height="96.5" fill="#0a0a0a"/>
<rect x="408.8" y="428.0" width="5.10" height="96.5" fill="#dcdcdc"/>
<rect x="413.9" y="428.0" width="4.40" height="96.5" fill="#909090"/>
<rect x="418.3" y="428.0" width="5.70" height="96.5" fill="#626262"/>
<rect x="424" y="428.0" width="16.00" height="96.5" fill="#6a6a6a"/>
<rect x="384.6" y="428" width="29" height="13.5" fill="#eeeeee"/>
<rect x="399.3" y="428" width="9.5" height="44" fill="#050505"/>
<rect x="384" y="487.5" width="42" height="3" fill="#333"/>
<path d="M366,440.5 C375,440.5 380,442 382.5,448 C384.5,458 385.5,476 390,489" fill="none" stroke="#949494" stroke-width="9"/>
<path d="M446,437.5 C437,438 430,440 427.5,446 C425.5,456 425,476 421.5,489" fill="none" stroke="#5a5a5a" stroke-width="9"/>
<path d="M376,443 C381,444.5 384,449 385.5,456" fill="none" stroke="#c0c0c0" stroke-width="1.6"/>
</g></g>
<path d="M337,428 L386,428 L386,446 L337,446 Z" fill="#c4c4c4"/>
<path d="M337,446 L337,438 C345,432 352,429.5 360,429.2 C368,429.5 376,432 382,437 L384,446 Z" fill="#8c8c8c"/>
<path d="M341,444.5 C352,440 370,439 380,442 L384,447 Z" fill="#6a6a6a" filter="url(#b1)"/>
<rect x="382" y="428" width="3" height="11" fill="#f0f0f0"/>
<rect x="384.3" y="428" width="3" height="10.5" fill="#333"/>
<rect x="418" y="428" width="46" height="17" fill="#3c3c3c"/>
<path d="M457,434 L462.6,434 L460,440 Z" fill="#9a9a9a"/>
<rect x="456.8" y="433.6" width="5.8" height="1" fill="#d04040"/>
<rect x="413.9" y="428.5" width="4.4" height="14" fill="#1e1e1e"/>
<clipPath id="cC"><path d="M341.3,444.5 L350,442 L356,440.8 L366,441.5 L376.5,442.3 L380.3,443.5 L381.7,445.5 L383.9,455.3 L385.4,470 L387.6,484.6 L390.5,489 L421,489 L423.6,487.5 L424.2,482 L424.9,455.3 L425.6,448 L427.1,443.6 L430,440.5 L434,438.6 L448.7,437.9 L454,439.5 L457.5,443 L458.6,445 L458.6,512.6 L341.3,512.6 Z"/></clipPath>
<g clip-path="url(#cC)">
<rect x="336.2" y="428.0" width="128.3" height="96.5" fill="#30cc0c"/>
<g filter="url(#b3)">
<ellipse cx="358" cy="446" rx="16" ry="5" fill="#60d400"/>
<rect x="377" y="445" width="9" height="42" fill="#10c8a0"/>
<rect x="420" y="445" width="9" height="42" fill="#10c8a0"/>
<ellipse cx="440" cy="470" rx="10" ry="14" fill="#18cc60"/>
<ellipse cx="405" cy="501" rx="27" ry="17" fill="#dcd400"/>
<ellipse cx="405" cy="499" rx="19" ry="12.5" fill="#ff8c00"/>
<ellipse cx="404.5" cy="498" rx="13" ry="8.5" fill="#ff4c00"/>
<ellipse cx="404.5" cy="497.5" rx="8" ry="5.5" fill="#ff2c00"/>
<rect x="392" y="487.5" width="28" height="5" fill="#ff6a00"/>
<rect x="340" y="492" width="45" height="22" fill="#6cd200"/>
<rect x="425" y="496" width="35" height="18" fill="#68d200"/>
</g>
<g filter="url(#b1)">
<path d="M379.4,446 C381.6,456 383,470 385,486" fill="none" stroke="#00d8d0" stroke-width="4"/>
<path d="M429,446 C427.2,456 426.8,472 425.8,486" fill="none" stroke="#00d8d0" stroke-width="4"/>
<path d="M381.6,446 C383.8,456 385.2,470 387.2,486" fill="none" stroke="#1060ff" stroke-width="3.6"/>
<path d="M426.8,446 C425,456 424.6,472 423.6,486" fill="none" stroke="#1068ff" stroke-width="3.4"/>
</g>
</g>
<rect x="336.2" y="512.6" width="128.3" height="4.899999999999977" fill="#3a3a3a"/>
<rect x="336.2" y="517.5" width="128.3" height="7.0" fill="#070707"/>
<rect x="458.5" y="436" width="5.50" height="81.5" fill="#2a2a2a"/>
<rect x="336.2" y="428.5" width="2.3" height="95.7" fill="#101010"/>
<rect x="338.3" y="438.8" width="3.3" height="85.29999999999998" fill="url(#cbar)"/>
<rect x="342.4" y="439.8" width="9" height="2.6" fill="#d8dcd0" stroke="#ffffff" stroke-width="0.5" opacity="0.55"/>
<rect x="342.4" y="462.3" width="9" height="2.6" fill="#d8dcd0" stroke="#ffffff" stroke-width="0.5" opacity="0.55"/>
<rect x="342.4" y="485.4" width="9" height="2.6" fill="#d8dcd0" stroke="#ffffff" stroke-width="0.5" opacity="0.55"/>
<rect x="342.4" y="508.2" width="9" height="2.6" fill="#d8dcd0" stroke="#ffffff" stroke-width="0.5" opacity="0.55"/>
<rect x="338.7" y="432.8" width="32" height="0.8" fill="#e03c3c" opacity="0.6"/>
<text x="150.2" y="385.6" class="ti" textLength="191.2" lengthAdjust="spacingAndGlyphs">Front reached the bottom</text>
<text x="19.6" y="425.9" text-anchor="middle" class="bl">A</text>
<text x="178.1" y="425.9" text-anchor="middle" class="bl">B</text>
<text x="330" y="425.9" text-anchor="middle" class="bl">C</text>
<text x="91" y="540.3" text-anchor="middle" class="cp">STF 25%</text>
<text x="247.7" y="540.3" text-anchor="middle" class="cp">STF 20%</text>
<text x="404.7" y="540.3" text-anchor="middle" class="cp">STF 15%</text>
</svg>
</body></html>
